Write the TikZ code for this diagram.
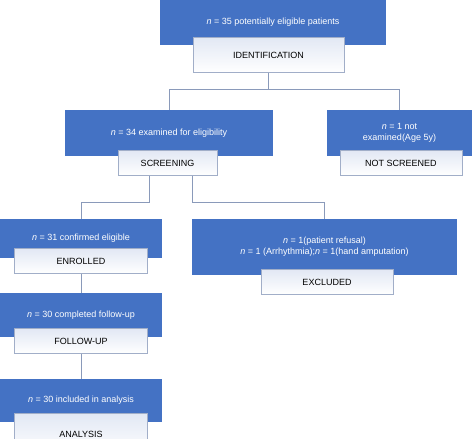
\documentclass[tikz,border=0pt]{standalone}
\usepackage{fontspec}
\setmainfont{Liberation Sans}
\usepackage{xcolor}
\usepackage{tikz}
\usetikzlibrary{positioning,calc}

\definecolor{boxblue}{RGB}{68,114,196}
\definecolor{linkgray}{RGB}{138,154,186}
\definecolor{tagtop}{RGB}{226,232,244}

\begin{document}
\begin{tikzpicture}[
    x=1pt, y=-1pt,
    font=\fontsize{9}{11}\selectfont,
    flow/.style={draw=linkgray, line width=0.9pt},
    block/.style={
        fill=boxblue,
        text=white,
        align=center,
        inner sep=2pt
    },
    tag/.style={
        draw=linkgray!80,
        line width=0.6pt,
        top color=tagtop,
        middle color=white,
        bottom color=white,
        align=center,
        minimum width=133pt,
        minimum height=25pt,
        inner sep=2pt
    }
]
\useasboundingbox (0,0) rectangle (474,439);

% Identification
\node[block, minimum width=226pt, minimum height=45pt] (top) at (273,22.5)
{\textit{n} = 35 potentially eligible patients};
\node[tag, minimum width=151pt, minimum height=35pt,
      below=-8pt of top, xshift=-4.5pt] (ident) {IDENTIFICATION};

% Screening
\node[block, minimum width=208pt, minimum height=46pt] (exam) at (169,133)
{\textit{n} = 34 examined for eligibility};
\node[tag, minimum width=99pt, below=-6pt of exam, xshift=-1.5pt] (screen)
{SCREENING};

\node[block, minimum width=145pt, minimum height=46pt] (notexam) at (399.5,133)
{\textit{n} = 1 not\\examined(Age 5y)};
\node[tag, minimum width=122pt, below=-6pt of notexam, xshift=1.5pt] (notscr)
{NOT SCREENED};

% Enrolment and exclusion
\node[block, minimum width=162pt, minimum height=39pt] (enrol) at (81,238.5)
{\textit{n} = 31 confirmed eligible};
\node[tag, below=-10pt of enrol] (enrolled) {ENROLLED};

\node[block, minimum width=265pt, minimum height=56pt] (excl) at (324.5,247)
{\textit{n} = 1(patient refusal)\\
\textit{n} = 1 (Arrhythmia);\textit{n} = 1(hand amputation)};
\node[tag, minimum width=132pt, below=-6pt of excl, xshift=2.5pt] (excluded)
{EXCLUDED};

% Follow-up and analysis
\node[block, minimum width=162pt, minimum height=44pt] (follow) at (81,315)
{\textit{n} = 30 completed follow-up};
\node[tag, below=-9pt of follow] (followed) {FOLLOW-UP};

\node[block, minimum width=162pt, minimum height=43pt] (analysis) at (81,400.5)
{\textit{n} = 30 included in analysis};
\node[tag, minimum height=42pt, below=-9pt of analysis] (analysed) {ANALYSIS};

% Connectors
\draw[flow] (ident.south) -- ++(0,17) coordinate (split);
\draw[flow] (split) -| (exam.north);
\draw[flow] (split) -| (notexam.north);

\draw[flow] ([xshift=-18.5pt]screen.south) -- ++(0,27) -| (enrol.north);
\draw[flow] ([xshift=24.5pt]screen.south) -- ++(0,27) -| (excl.north);

\draw[flow] (enrolled.south) -- (enrolled.south |- follow.north);
\draw[flow] (followed.south) -- (followed.south |- analysis.north);

\end{tikzpicture}
\end{document}
